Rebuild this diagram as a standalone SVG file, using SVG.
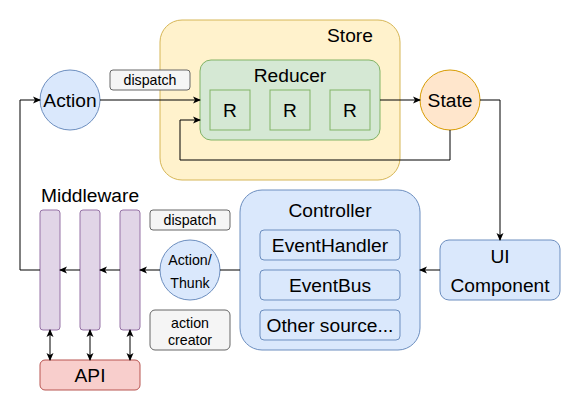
<svg xmlns="http://www.w3.org/2000/svg" width="581" height="411" viewBox="0 0 581 411">
<defs>
<marker id="arr" viewBox="0 0 8 8" markerWidth="8" markerHeight="8" refX="7" refY="4" orient="auto" markerUnits="userSpaceOnUse">
<path d="M0,0.5 L8,4 L0,7.5 L2,4 Z" fill="#000"/>
</marker>
<marker id="arrs" viewBox="0 0 8 8" markerWidth="8" markerHeight="8" refX="7" refY="4" orient="auto-start-reverse" markerUnits="userSpaceOnUse">
<path d="M0,0.5 L8,4 L0,7.5 L2,4 Z" fill="#000"/>
</marker>
<style>
text{font-family:"Liberation Sans",Arial,sans-serif;fill:#000;text-anchor:middle}
.t16{font-size:19.2px}
.t12{font-size:14.2px}
.blue{fill:#dae8fc;stroke:#6c8ebf}
.green{fill:#d5e8d4;stroke:#82b366}
.yellow{fill:#fff2cc;stroke:#d6b656}
.orange{fill:#ffe6cc;stroke:#d79b00}
.purple{fill:#e1d5e7;stroke:#9673a6}
.red{fill:#f8cecc;stroke:#b85450}
.grey{fill:#f5f5f5;stroke:#666666}
.edge{fill:none;stroke:#000;stroke-width:1}
</style>
</defs>
<rect width="581" height="411" fill="#fff"/>
<g id="store"><rect x="160" y="20" width="240" height="160" rx="22" class="yellow"/><text x="350" y="42" class="t16">Store</text></g>
<g id="reducer"><rect x="200" y="60" width="180" height="80" rx="11" class="green"/><text x="290" y="82" class="t16">Reducer</text></g>
<g id="r1"><rect x="210" y="90" width="40" height="40" class="green"/><text x="230" y="117" class="t16">R</text></g>
<g id="r2"><rect x="270" y="90" width="40" height="40" class="green"/><text x="290" y="117" class="t16">R</text></g>
<g id="r3"><rect x="330" y="90" width="40" height="40" class="green"/><text x="350" y="117" class="t16">R</text></g>
<g id="action"><circle cx="70" cy="100" r="30" class="blue"/><text x="70" y="107" class="t16">Action</text></g>
<g id="state"><circle cx="450" cy="100" r="30" class="orange"/><text x="450" y="107" class="t16">State</text></g>
<g id="dispatch1"><rect x="110" y="70" width="80" height="20" rx="3" class="grey"/><text x="150" y="85" class="t12">dispatch</text></g>
<g id="ui"><rect x="440" y="240" width="120" height="60" rx="9" class="blue"/><text x="500" y="263" class="t16">UI</text><text x="500" y="292" class="t16">Component</text></g>
<g id="controller"><rect x="240" y="190" width="180" height="160" rx="22" class="blue"/><text x="330" y="217" class="t16">Controller</text></g>
<g id="eventhandler"><rect x="260" y="230" width="140" height="30" rx="4" class="blue"/><text x="330" y="252" class="t16">EventHandler</text></g>
<g id="eventbus"><rect x="260" y="270" width="140" height="30" rx="4" class="blue"/><text x="330" y="292" class="t16">EventBus</text></g>
<g id="othersource"><rect x="260" y="310" width="140" height="30" rx="4" class="blue"/><text x="330" y="332" class="t16">Other source...</text></g>
<g id="thunk"><circle cx="190" cy="270" r="30" class="blue"/><text x="190" y="265" class="t12">Action/</text><text x="190" y="288" class="t12">Thunk</text></g>
<g id="dispatch2"><rect x="150" y="210" width="80" height="20" rx="3" class="grey"/><text x="190" y="225" class="t12">dispatch</text></g>
<g id="actioncreator"><rect x="150" y="310" width="80" height="40" rx="5" class="grey"/><text x="190" y="328" class="t12">action</text><text x="190" y="345" class="t12">creator</text></g>
<g id="middleware-label"><text x="90" y="202" class="t16">Middleware</text></g>
<g id="mw1"><rect x="40" y="210" width="20" height="120" rx="3" class="purple"/></g>
<g id="mw2"><rect x="80" y="210" width="20" height="120" rx="3" class="purple"/></g>
<g id="mw3"><rect x="120" y="210" width="20" height="120" rx="3" class="purple"/></g>
<g id="api"><rect x="40" y="360" width="100" height="30" rx="5" class="red"/><text x="90" y="382" class="t16">API</text></g>
<g id="connectors">
<path d="M100,100 H200" class="edge" marker-end="url(#arr)"/>
<path d="M380,100 H420" class="edge" marker-end="url(#arr)"/>
<path d="M450,130 V160 H180 V120 H200" class="edge" marker-end="url(#arr)"/>
<path d="M480,100 H500 V240" class="edge" marker-end="url(#arr)"/>
<path d="M440,270 H420" class="edge" marker-end="url(#arr)"/>
<path d="M240,270 H220" class="edge"/>
<path d="M160,270 H140" class="edge" marker-end="url(#arr)"/>
<path d="M120,270 H100" class="edge" marker-end="url(#arr)"/>
<path d="M80,270 H60" class="edge" marker-end="url(#arr)"/>
<path d="M40,270 H20 V100 H40" class="edge" marker-end="url(#arr)"/>
<path d="M50,330 V360" class="edge" marker-start="url(#arrs)" marker-end="url(#arrs)"/>
<path d="M90,330 V360" class="edge" marker-start="url(#arrs)" marker-end="url(#arrs)"/>
<path d="M130,330 V360" class="edge" marker-start="url(#arrs)" marker-end="url(#arrs)"/>
</g>
</svg>
